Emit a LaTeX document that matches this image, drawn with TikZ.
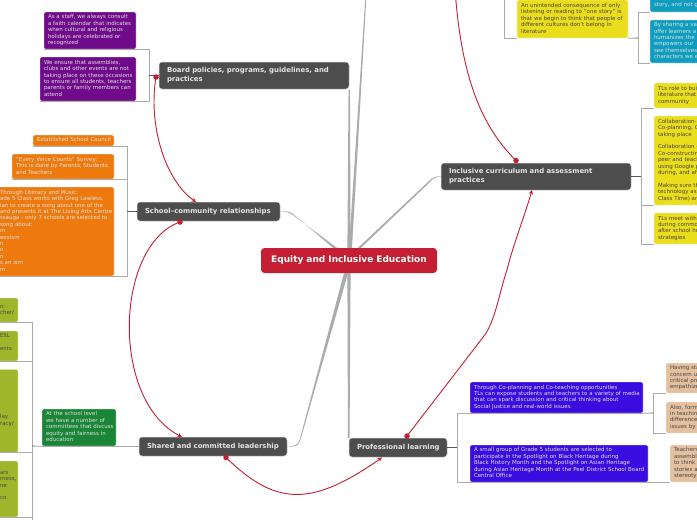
\documentclass[tikz,border=0pt]{standalone}
\usepackage{fontspec}
\setmainfont{DejaVu Sans}
\usetikzlibrary{calc,arrows.meta}
\definecolor{cRed}{HTML}{C41F33}
\definecolor{cDark}{HTML}{4D4D4D}
\definecolor{cPurple}{HTML}{6F0A8A}
\definecolor{cOrange}{HTML}{EE7A0E}
\definecolor{cGreen}{HTML}{1A8536}
\definecolor{cOlive}{HTML}{A0B62A}
\definecolor{cYellow}{HTML}{EADD1B}
\definecolor{cCyan}{HTML}{0F9DBF}
\definecolor{cBlue}{HTML}{3A0CE0}
\definecolor{cPeach}{HTML}{E5C09F}
\definecolor{cLine}{HTML}{ABABAB}
\tikzset{
  anybox/.style={rectangle,inner xsep=4pt,inner ysep=0pt,align=left,font=\fontsize{5.5}{6.4}\selectfont},
  leaf/.style={anybox,rounded corners=1.5pt,draw=white,line width=.3pt},
  lightleaf/.style={leaf,text=white!88!black},
  darkleaf/.style={leaf,text=black!72},
  topic/.style={anybox,fill=cDark,draw=black!18,line width=.5pt,text=white!90!black,rounded corners=3pt,font=\fontsize{6.9}{8.6}\selectfont\bfseries},
  root/.style={anybox,fill=cRed,text=white,rounded corners=3.5pt,inner xsep=0pt,align=center,font=\fontsize{9}{11}\selectfont\bfseries},
  bracket/.style={draw=cLine,line width=.8pt},
  stub/.style={draw=black!65,line width=.6pt},
  taper/.style={fill=cLine},
  rel/.style={draw=cRed,line width=.9pt,-{Stealth[length=4.5pt,width=4.5pt]}},
  reldot/.style={circle,fill=cRed,inner sep=0pt,minimum size=5.5pt}
}
% name, x1, y1, x2, y2, style, text
\newcommand{\bx}[7]{%
  \pgfmathsetmacro{\bw}{#4-#2}\pgfmathsetmacro{\bh}{#5-#3}%
  \pgfmathsetmacro{\tw}{#4-#2-8}%
  \pgfmathsetmacro{\cxx}{(#2+#4)/2}\pgfmathsetmacro{\cyy}{(#3+#5)/2}%
  \node[#6,minimum width=\bw pt,minimum height=\bh pt,text width=\tw pt] (#1) at (\cxx,\cyy) {\makebox[\tw pt][l]{\begin{tabular}{@{}l@{}}#7\end{tabular}}};%
}
\newcommand{\tl}{\hspace*{4pt}}
\begin{document}
\begin{tikzpicture}[x=1pt,y=-1pt]
\useasboundingbox (0,0) rectangle (697,520);
\clip (0,0) rectangle (697,520);
\fill[white] (0,0) rectangle (697,520);

% topics and root
\node[root,minimum width=176pt,minimum height=25pt,text width=176pt] (ctr) at (349,260.5) {Equity and Inclusive Education};
\bx{board}{159}{62}{349}{89}{topic}{\tl Board policies, programs, guidelines, and\\\tl practices}
\bx{school}{137}{202}{280}{221}{topic}{\tl School–community relationships}
\bx{shared}{139}{437}{287}{456}{topic}{\tl Shared and committed leadership}
\bx{prof}{349}{438}{447}{457}{topic}{\tl Professional learning}
\bx{incl}{441}{163}{631}{190}{topic}{\tl Inclusive curriculum and assessment\\\tl practices}

% purple
\bx{pa}{44}{12}{136}{49}{lightleaf,fill=cPurple}{As a staff, we always consult\\a faith calendar that indicates\\when cultural and religious\\holidays are celebrated or\\recognized}
\bx{pb}{40}{57}{136}{101}{lightleaf,fill=cPurple}{We ensure that assemblies,\\clubs and other events are not\\taking place on these occasions\\to ensure all students, teachers\\parents or family members can\\attend}
% orange
\bx{oa}{33}{135}{114}{146}{lightleaf,fill=cOrange}{Established School Council}
\bx{ob}{12}{154}{114}{179}{lightleaf,fill=cOrange}{"Every Voice Counts" Survey:\\This is done by Parents, Students\\and Teachers}
\bx{oc}{-4}{187}{114}{276}{lightleaf,fill=cOrange}{Through Literacy and Music:\\ade 5 Class works with Greg Lawless,\\ian to create a song about one of the\\and presents it at The Living Arts Centre\\ssauga - only 7 schools are selected to\\song about:\\m\\eexism\\n\\n\\n\\s an ism\\m}
% green
\bx{ga}{42}{409}{116}{446}{lightleaf,fill=cGreen}{At the school level\\we have a number of\\committees that discuss\\equity and fairness in\\education}
% olive
\bx{la}{-4}{298}{18}{322}{darkleaf,fill=cOlive}{n:\\cher/}
\bx{lb}{-4}{331}{18}{361}{darkleaf,fill=cOlive}{ESL\\~\\ents\\~}
\bx{lc}{-4}{370}{18}{452}{darkleaf,fill=cOlive}{~\\~\\~\\~\\~\\~\\~\\lay\\racy/\\~\\~\\~\\~}
\bx{ld}{-4}{461}{18}{517}{darkleaf,fill=cOlive}{~\\ars\\rness,\\ne\\~\\co\\~\\~}
% yellow and cyan, top
\bx{ya}{517}{0}{628}{38}{darkleaf,fill=cYellow}{An unintended consequence of only\\listening or reading to "one story" is\\that we begin to think that people of\\different cultures don't belong in\\literature}
\bx{ca}{650}{-8}{720}{12}{lightleaf,fill=cCyan}{created stereot\\story, and not g}
\bx{cb}{650}{20}{720}{63}{lightleaf,fill=cCyan}{By sharing a va\\offer learners a\\humanizes the\\empowers our\\see themselves\\characters we e}
% yellow, right
\bx{yb}{654}{83}{720}{108}{darkleaf,fill=cYellow}{TLs role to buil\\literature that\\community}
\bx{yc}{654}{116}{720}{205}{darkleaf,fill=cYellow}{Collaboration-\\Co-planning, C\\taking place\\~\\Collaboration -\\Co-constructin\\peer and teach\\using Google p\\during, and aft\\~\\Making sure th\\technology as\\Class Time) an}
\bx{yd}{654}{213}{720}{244}{darkleaf,fill=cYellow}{TLs meet with\\during commo\\after school ho\\strategies}
% blue
\bx{ba}{470}{382}{643}{413}{lightleaf,fill=cBlue}{Through Co-planning and Co-teaching opportunities\\TLs can expose students and teachers to a variety of media\\that can spark discussion and critical thinking about\\Social Justice and real-world issues}
\bx{bb}{470}{445}{648}{482}{lightleaf,fill=cBlue}{A small group of Grade 5 students are selected to\\participate in the Spotlight on Black Heritage during\\Black History Month and the Spotlight on Asian Heritage\\during Asian Heritage Month at the Peel District School Board\\Central Office}
% peach
\bx{ea}{666}{363}{720}{393}{darkleaf,fill=cPeach}{Having sta\\concern u\\critical pro\\empathize}
\bx{eb}{666}{402}{720}{433}{darkleaf,fill=cPeach}{Also, form\\in teachin\\difference\\issues by}
\bx{ec}{670}{445}{720}{482}{darkleaf,fill=cPeach}{Teachers\\assembli\\to think\\stories a\\stereoty}

% tapered main branches
\fill[taper] ($(ctr.north)+(-1.6,0)$) -- ($(board.south east)+(-.7,0)$) -- ($(board.south east)+(.7,0)$) -- ($(ctr.north)+(1.6,0)$) -- cycle;
\fill[taper] ($(ctr.north)+(0,0)$) -- (365.3,-2) -- (366.3,-2) -- ($(ctr.north)+(3,0)$) -- cycle;
\fill[taper] ($(ctr.south)+(-1.6,0)$) -- ($(prof.north west)+(-.8,0)$) -- ($(prof.north west)+(.8,0)$) -- ($(ctr.south)+(1.6,0)$) -- cycle;
\fill[taper] ($(ctr.north)+(9,0)$) -- (429,181) .. controls (433,177) and (436,176) .. (incl.west) .. controls (436,177) and (433,178) .. (430,182) -- ($(ctr.north)+(12,0)$) -- cycle;
\fill[taper] ($(ctr.north)+(-16,0)$) -- (292,213) .. controls (288,211) and (285,211) .. (school.east) .. controls (285,211.8) and (288,211.8) .. (291.5,214) -- ($(ctr.north)+(-12,0)$) -- cycle;
\fill[taper] ($(ctr.south)+(-5,0)$) -- (299.6,440) .. controls (298,445) and (295,446) .. (shared.east) .. controls (295,446.8) and (298.6,446.5) .. (300.4,440) -- ($(ctr.south)+(-1,0)$) -- cycle;

% brackets
\coordinate (bkA) at (149,75.5);
\draw[bracket] (pa.south west) -- (pa.south east) -- (pa.south east -| bkA) -- (pb.south east -| bkA) -- (pb.south west);
\draw[stub] (board.west) -- (bkA);
\coordinate (bkB) at (127,211.5);
\draw[bracket] (oa.south west) -- (oa.south east -| bkB) -- (oc.south east -| bkB) -- (oc.south west);
\draw[bracket] (ob.south west) -- (ob.south east -| bkB);
\draw[stub] (school.west) -- (bkB);
\coordinate (bkC) at (32,446);
\draw[bracket] (ga.south west) -- (shared.west |- ga.south);
\draw[bracket] (bkC |- la.south) -- (32,521);
\draw[bracket] (la.south west) -- (bkC |- la.south);
\draw[bracket] (lb.south west) -- (bkC |- lb.south);
\draw[bracket] (lc.south west) -- (bkC |- lc.south);
\draw[bracket] (ld.south west) -- (bkC |- ld.south);
\draw[stub] (ga.south west) -- (bkC);
\coordinate (bkD) at (457,447.5);
\draw[bracket] (ba.south east) -- (ba.south west) -- (ba.south west -| bkD) -- (bb.south west -| bkD) -- (bb.south west) -- (bb.south east);
\draw[stub] (prof.east) -- (bkD);
\coordinate (bkE) at (653,413);
\draw[bracket] (ea.south west) -- (ea.south west -| bkE) -- (eb.south west -| bkE) -- (eb.south west);
\draw[stub] (ba.south east) -- (bkE);
\draw[bracket] (bb.south east) -- (ec.south west);
\coordinate (bkF) at (641,176.5);
\draw[bracket] (yb.south west) -- (yb.south west -| bkF) -- (yd.south west -| bkF) -- (yd.south west);
\draw[bracket] (yc.south west) -- (yc.south west -| bkF);
\draw[stub] (incl.east) -- (bkF);
\coordinate (bkG) at (504,-2);
\draw[bracket] (bkG) -- (bkG |- ya.south) -- (ya.south west);
\coordinate (bkH) at (638,38);
\draw[bracket] (ca.south west) -- (ca.south west -| bkH) -- (cb.south west -| bkH) -- (cb.south west);
\draw[stub] (ya.south east) -- (bkH);

% red relationship curves
\coordinate (t0) at (455.5,-4);
\node[reldot] (d1) at (156,77) {};
\node[reldot] (d2) at (180,222) {};
\node[reldot] (d3) at (226,457.5) {};
\node[reldot] (d4) at (407,436) {};
\node[reldot] (d5) at (516,160.5) {};
\draw[rel] (d1.center) .. controls (148,125) and (165,180) .. (196,202);
\draw[rel] (d2.center) .. controls (115,245) and (110,400) .. (182,437);
\draw[rel] (d3.center) .. controls (275,505) and (310,508) .. (382,457.5);
\draw[rel] (d4.center) -- (484,336) .. controls (495,322) and (500,290) .. (507,270) .. controls (513,245) and (525,215) .. (532,190);
\draw[draw=cRed,line width=.9pt] (d5.center) .. controls (480,125) and (462,75) .. (t0);
\end{tikzpicture}
\end{document}
